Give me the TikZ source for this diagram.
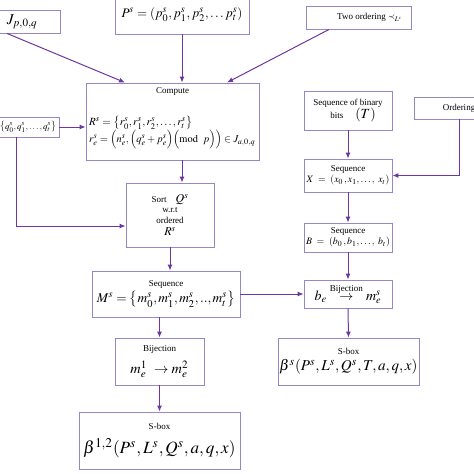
\documentclass[tikz,border=0pt]{standalone}
\usepackage{amsmath}
\usepackage{mathptmx}
\usepackage{graphicx}
\usepackage[no-math]{fontspec}
\setmainfont{Liberation Serif}
\usetikzlibrary{arrows.meta,calc}
\definecolor{boxc}{RGB}{150,135,200}
\definecolor{arrc}{RGB}{110,55,160}
\tikzset{
 bx/.style={draw=boxc, line width=0.9pt, inner sep=1pt, align=center, font=\fontsize{9}{11}\selectfont},
 txt/.style={inner sep=0pt, font=\fontsize{9}{11}\selectfont},
 arr/.style={draw=arrc, line width=1pt, -{Latex[length=6pt,width=5pt]}},
}
\begin{document}
\begin{tikzpicture}[x=1pt,y=-1pt]
\useasboundingbox (0,0) rectangle (474,474);
% left / middle column
\node[bx, minimum width=76pt, minimum height=23pt] (J) at (22,21.5) {\fontsize{15}{15}\selectfont$J_{p,0,q}$};
\node[bx, minimum width=134pt, minimum height=38pt] (P) at (182,15) {\resizebox{121pt}{!}{$P^s=(p_0^s,p_1^s,p_2^s,\ldots p_t^s)$}};
\node[bx, minimum width=105pt, minimum height=23pt] (TO) at (358.5,17.5) {\hspace*{22pt}Two ordering $\prec_{L^s}$};
\node[bx, minimum width=173pt, minimum height=77pt] (C) at (172.5,121.5) {};
\node[txt, anchor=north] (Ct) at ([yshift=-5pt]C.north) {Compute};
\node[txt, anchor=west] (C1) at (89,123) {\resizebox{103pt}{!}{$R^s=\left\{r_0^s,r_1^s,r_2^s,\ldots,r_t^s\right\}$}};
\node[txt, anchor=west] (C2) at (89,140) {\resizebox{166pt}{!}{$r_e^s=\Big(n_e^s,\Big(q_e^s+p_e^s\Big)\Big(\mathrm{mod}\ \ p\Big)\Big)\in J_{a,0,q}$}};
\node[bx, minimum width=62pt, minimum height=20pt] (Q) at (28,127) {\resizebox{56pt}{!}{$\left\{q_0^s,q_1^s,\ldots,q_t^s\right\}$}};
\node[bx, minimum width=88pt, minimum height=64pt] (S) at (170,215) {Sort\quad{\fontsize{12}{12}\selectfont$Q^s$}\\[-1pt] w.r.t\\ ordered\\[1pt] {\fontsize{12}{12}\selectfont$R^s$}};
\node[bx, minimum width=148pt, minimum height=46pt] (M) at (166,294) {Sequence\\[2pt] \resizebox{138pt}{!}{$M^s=\left\{m_0^s,m_1^s,m_2^s,..,m_t^s\right\}$}};
\node[bx, minimum width=89pt, minimum height=47pt] (BL) at (159.5,361.5) {Bijection\\[6pt] \resizebox{58pt}{!}{$m_e^1\ \rightarrow m_e^2$}};
\node[bx, minimum width=161pt, minimum height=57pt] (SL) at (159.5,440.5) {S-box\\[8pt] \resizebox{152pt}{!}{$\beta^{1,2}(P^s,L^s,Q^s,a,q,x)$}};
% right column
\node[bx, minimum width=88pt, minimum height=39pt] (T) at (348,110.5) {Sequence of binary\\ \hspace*{10pt}bits\hspace{12pt}{\fontsize{14}{14}\selectfont$(T)$}};
\node[bx, minimum width=90pt, minimum height=22pt] (O) at (459,108) {Ordering};
\node[bx, minimum width=88pt, minimum height=33pt] (X) at (348,175.5) {Sequence\\ \resizebox{83pt}{!}{$X\ =\ (x_0\,,x_1,\ldots,\ x_t)$}};
\node[bx, minimum width=88pt, minimum height=29pt] (B) at (348,237.5) {Sequence\\ \resizebox{84pt}{!}{$B\ =\ (b_0\,,b_1,\ldots,\ b_t)$}};
\node[bx, minimum width=88pt, minimum height=28pt] (BR) at (348,294) {\fontsize{14}{14}\selectfont$b_e\overset{\text{\fontsize{9}{9}\selectfont Bijection}}{\rightarrow}m_e^s$};
\node[bx, minimum width=141pt, minimum height=47pt] (SR) at (348.5,361.5) {S-box\\[4pt] \resizebox{138pt}{!}{$\beta^s(P^s,L^s,Q^s,T,a,q,x)$}};
% connectors
\draw[arr] ([xshift=-15pt]J.south) -- ([xshift=-47.5pt]C.north);
\draw[arr] (P.south) -- (P.south |- C.north);
\draw[arr] ([xshift=-29.5pt]TO.south) -- ([xshift=54.5pt]C.north);
\draw[arr] (Q.east) -- (Q.east -| C.west);
\draw[arr] ([xshift=-12pt]Q.south) |- ([yshift=-11pt]S.west);
\draw[arr] (P.south |- C.south) -- (P.south |- S.north);
\draw[arr] (S.south) -- (S.south |- M.north);
\draw[arr] (BL.north |- M.south) -- (BL.north);
\draw[arr] (BL.south) -- (BL.south |- SL.north);
\draw[arr] (M.east) -- (M.east -| BR.west);
\draw[arr] (T.south) -- (X.north);
\draw[arr] (O.south) |- (X.east);
\draw[arr] (X.south) -- (B.north);
\draw[arr] (B.south) -- (BR.north);
\draw[arr] (BR.south) -- (SR.north);
\end{tikzpicture}
\end{document}
